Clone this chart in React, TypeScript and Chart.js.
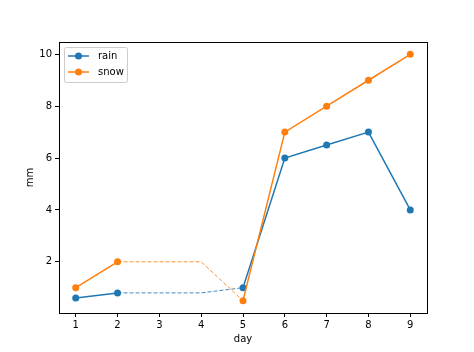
import React, { useEffect, useRef } from "react";
import { Chart, registerables } from "chart.js";

Chart.register(...registerables);

const days = [1, 2, 3, 4, 5, 6, 7, 8, 9];
const rain = [0.6, 0.8, null, null, 1.0, 6, 6.5, 7, 4];
const snow = [1, 2, null, null, 0.5, 7, 8, 9, 10];
const rainFilled = [null, 0.8, 0.8, 0.8, 1.0, null, null, null, null];
const snowFilled = [null, 2, 2, 2, 0.5, null, null, null, null];
const yTicks = [2, 4, 6, 8, 10];
const seriesNames = ["rain", "snow"];

const BLUE = "#1f77b4";
const ORANGE = "#ff7f0e";
const FONT = "'DejaVu Sans', sans-serif";

const toXY = (arr: (number | null)[]) =>
  arr.map((v, i) => ({ x: days[i], y: v }));

export default function App() {
  const ref = useRef<HTMLCanvasElement | null>(null);

  useEffect(() => {
    document.body.style.margin = "0";
    const canvas = ref.current!;
    const framePlugin = {
      id: "frame",
      afterDatasetsDraw(chart: any) {
        const { ctx, chartArea: a } = chart;
        ctx.save();
        ctx.strokeStyle = "#000";
        ctx.lineWidth = 1;
        ctx.strokeRect(
          Math.round(a.left) + 0.5,
          Math.round(a.top) + 0.5,
          Math.round(a.right - a.left),
          Math.round(a.bottom - a.top)
        );
        // axis titles
        ctx.fillStyle = "#000";
        ctx.font = `10px ${FONT}`;
        ctx.textAlign = "center";
        ctx.textBaseline = "middle";
        ctx.fillText("day", (a.left + a.right) / 2, 339);
        ctx.save();
        ctx.translate(30, (a.top + a.bottom) / 2);
        ctx.rotate(-Math.PI / 2);
        ctx.fillText("mm", 0, 0);
        ctx.restore();
        // legend
        const lx = 64.5, ly = 47.5, lw = 63, lh = 35;
        ctx.fillStyle = "rgba(255,255,255,0.8)";
        ctx.strokeStyle = "#cccccc";
        ctx.lineWidth = 1;
        ctx.beginPath();
        const r = 2;
        ctx.moveTo(lx + r, ly);
        ctx.arcTo(lx + lw, ly, lx + lw, ly + lh, r);
        ctx.arcTo(lx + lw, ly + lh, lx, ly + lh, r);
        ctx.arcTo(lx, ly + lh, lx, ly, r);
        ctx.arcTo(lx, ly, lx + lw, ly, r);
        ctx.closePath();
        ctx.fill();
        ctx.stroke();
        const cols = [BLUE, ORANGE];
        seriesNames.forEach((name, i) => {
          const y = 56 + i * 16;
          ctx.strokeStyle = cols[i];
          ctx.lineWidth = 1.5;
          ctx.beginPath();
          ctx.moveTo(68, y);
          ctx.lineTo(89, y);
          ctx.stroke();
          ctx.fillStyle = cols[i];
          ctx.beginPath();
          ctx.arc(78.5, y, 3.5, 0, Math.PI * 2);
          ctx.fill();
          ctx.fillStyle = "#000";
          ctx.textAlign = "left";
          ctx.textBaseline = "middle";
          ctx.fillText(name, 98, y);
        });
        ctx.restore();
      },
    };

    const chart = new Chart(canvas, {
      type: "line",
      data: {
        datasets: [
          {
            label: "rain_filled",
            data: toXY(rainFilled),
            borderColor: "rgba(31,119,180,0.85)",
            borderWidth: 1,
            borderDash: [4, 2],
            pointRadius: 0,
            fill: false,
            order: 4,
          },
          {
            label: "snow_filled",
            data: toXY(snowFilled),
            borderColor: "rgba(255,127,14,0.85)",
            borderWidth: 1,
            borderDash: [4, 2],
            pointRadius: 0,
            fill: false,
            order: 3,
          },
          {
            label: "rain",
            data: toXY(rain),
            borderColor: BLUE,
            backgroundColor: BLUE,
            borderWidth: 1.5,
            pointRadius: 3.5,
            pointBorderWidth: 0,
            spanGaps: false,
            fill: false,
            order: 2,
          },
          {
            label: "snow",
            data: toXY(snow),
            borderColor: ORANGE,
            backgroundColor: ORANGE,
            borderWidth: 1.5,
            pointRadius: 3.5,
            pointBorderWidth: 0,
            spanGaps: false,
            fill: false,
            order: 1,
          },
        ],
      },
      options: {
        animation: false,
        responsive: false,
        maintainAspectRatio: false,
        layout: { padding: { left: 0, top: 42, right: 47, bottom: 0 } },
        plugins: { legend: { display: false }, tooltip: { enabled: false } },
        elements: { line: { tension: 0 } },
        scales: {
          x: {
            type: "linear",
            min: 0.6,
            max: 9.4,
            afterBuildTicks: (s: any) => {
              s.ticks = days.map((v) => ({ value: v }));
            },
            afterFit: (s: any) => {
              s.height = 39;
            },
            border: { display: false },
            grid: {
              drawOnChartArea: false,
              drawTicks: true,
              tickLength: 4,
              color: "#000",
            },
            ticks: {
              color: "#000",
              font: { family: FONT, size: 10 },
              padding: 2,
              maxRotation: 0,
            },
          },
          y: {
            type: "linear",
            min: 0.025,
            max: 10.475,
            afterBuildTicks: (s: any) => {
              s.ticks = yTicks.map((v) => ({ value: v }));
            },
            afterFit: (s: any) => {
              s.width = 59;
            },
            border: { display: false },
            grid: {
              drawOnChartArea: false,
              drawTicks: true,
              tickLength: 4,
              color: "#000",
            },
            ticks: {
              color: "#000",
              font: { family: FONT, size: 10 },
              padding: 3,
            },
          },
        },
      },
      plugins: [framePlugin],
    } as any);
    return () => chart.destroy();
  }, []);

  return (
    <div style={{ width: 474, height: 352 }}>
      <canvas ref={ref} width={474} height={352} style={{ width: 474, height: 352, display: "block" }} />
    </div>
  );
}
